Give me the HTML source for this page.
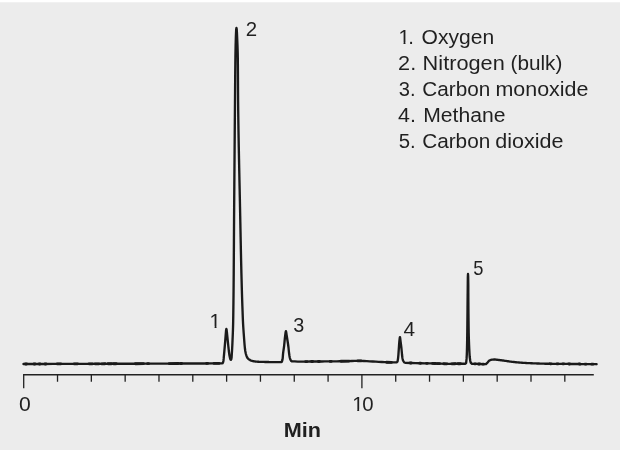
<!DOCTYPE html>
<html>
<head>
<meta charset="utf-8">
<title>Chromatogram</title>
<style>
html,body{margin:0;padding:0;background:#ececec;}
body{width:620px;height:450px;overflow:hidden;position:relative;font-family:"Liberation Sans",sans-serif;}
svg{position:absolute;left:0;top:0;display:block;will-change:transform;filter:grayscale(1);}
text{font-family:"Liberation Sans",sans-serif;fill:#231f20;}
</style>
</head>
<body>
<svg width="620" height="450" viewBox="0 0 620 450">
<defs><clipPath id="c1"><rect x="350.18" y="390.45" width="60" height="18.55"/><rect x="357.25" y="408.99" width="1.90" height="2.30"/><rect x="363.41" y="408.99" width="40" height="6"/></clipPath><clipPath id="c2"><rect x="207.53" y="307.65" width="60" height="18.35"/><rect x="214.60" y="325.99" width="1.90" height="2.50"/><rect x="220.76" y="325.99" width="40" height="6"/></clipPath><clipPath id="c3"><rect x="396.48" y="23.85" width="60" height="18.15"/><rect x="403.55" y="41.99" width="1.90" height="2.70"/><rect x="409.71" y="41.99" width="40" height="6"/></clipPath></defs>
<rect x="0" y="0" width="620" height="450" fill="#ececec"/>
<rect x="0" y="0" width="620" height="2" fill="#ffffff"/>
<rect x="0" y="2" width="620" height="1" fill="#f1f1f1"/>
<path d="M23.05,374.80H593.8" fill="none" stroke="#222222" stroke-width="1.55"/>
<path d="M23.70,374.80V388.3 M57.52,374.80V381.8 M91.34,374.80V381.8 M125.16,374.80V381.8 M158.98,374.80V381.8 M192.80,374.80V381.8 M226.62,374.80V381.8 M260.44,374.80V381.8 M294.26,374.80V381.8 M328.08,374.80V381.8 M361.90,374.80V388.3 M395.72,374.80V381.8 M429.54,374.80V381.8 M463.36,374.80V381.8 M497.18,374.80V381.8 M531.00,374.80V381.8 M564.82,374.80V381.8" fill="none" stroke="#222222" stroke-width="1.3"/>
<path d="M23.50,364.00 L33.50,363.98 L43.50,363.95 L53.50,363.93 L63.50,363.90 L73.50,363.88 L83.50,363.85 L93.50,363.83 L103.50,363.80 L113.50,363.77 L123.50,363.74 L133.50,363.71 L143.50,363.67 L153.50,363.63 L163.50,363.60 L173.50,363.56 L183.50,363.52 L193.50,363.49 L203.50,363.45 L213.50,363.42 L222.00,363.40 L222.60,363.20 L223.25,361.70 L223.51,360.20 L223.67,358.70 L223.79,357.20 L223.93,355.70 L224.07,354.20 L224.21,352.70 L224.35,351.20 L224.48,349.70 L224.61,348.20 L224.74,346.70 L224.87,345.20 L224.99,343.70 L225.12,342.20 L225.24,340.70 L225.36,339.20 L225.48,337.70 L225.60,336.20 L225.72,334.70 L225.85,333.20 L225.97,331.70 L226.10,330.20 L226.35,329.00 L226.60,329.60 L226.80,331.50 L226.97,333.00 L227.13,334.50 L227.29,336.00 L227.45,337.50 L227.60,339.00 L227.75,340.50 L227.89,342.00 L228.04,343.50 L228.19,345.00 L228.35,346.50 L228.52,348.00 L228.68,349.50 L228.85,351.00 L229.04,352.50 L229.25,354.00 L229.48,355.50 L229.79,357.00 L230.13,358.50 L230.20,358.80 L230.60,359.60 L230.90,359.80 L231.20,359.40 L231.60,357.50 L231.79,354.50 L231.98,351.50 L232.15,348.50 L232.31,345.50 L232.44,342.50 L232.57,339.50 L232.70,336.50 L232.82,333.50 L232.93,330.50 L233.02,327.50 L233.11,324.50 L233.17,321.50 L233.22,318.50 L233.27,315.50 L233.31,312.50 L233.35,309.50 L233.39,306.50 L233.43,303.50 L233.46,300.50 L233.50,297.50 L233.53,294.50 L233.56,291.50 L233.59,288.50 L233.62,285.50 L233.64,282.50 L233.67,279.50 L233.69,276.50 L233.72,273.50 L233.74,270.50 L233.76,267.50 L233.78,264.50 L233.80,261.50 L233.82,258.50 L233.84,255.50 L233.86,252.50 L233.88,249.50 L233.90,246.50 L233.92,243.50 L233.93,240.50 L233.95,237.50 L233.97,234.50 L233.99,231.50 L234.01,228.50 L234.03,225.50 L234.05,222.50 L234.06,219.50 L234.08,216.50 L234.11,213.50 L234.13,210.50 L234.15,207.50 L234.17,204.50 L234.20,201.50 L234.22,198.50 L234.24,195.50 L234.27,192.50 L234.29,189.50 L234.32,186.50 L234.34,183.50 L234.36,180.50 L234.39,177.50 L234.41,174.50 L234.43,171.50 L234.46,168.50 L234.48,165.50 L234.50,162.50 L234.53,159.50 L234.55,156.50 L234.57,153.50 L234.60,150.50 L234.62,147.50 L234.64,144.50 L234.67,141.50 L234.69,138.50 L234.72,135.50 L234.74,132.50 L234.76,129.50 L234.79,126.50 L234.81,123.50 L234.84,120.50 L234.86,117.50 L234.89,114.50 L234.91,111.50 L234.94,108.50 L234.96,105.50 L234.99,102.50 L235.01,99.50 L235.04,96.50 L235.06,93.50 L235.09,90.50 L235.11,87.50 L235.13,84.50 L235.16,81.50 L235.18,78.50 L235.21,75.50 L235.23,72.50 L235.26,69.50 L235.30,66.50 L235.33,63.50 L235.37,60.50 L235.41,57.50 L235.45,54.50 L235.51,51.50 L235.57,48.50 L235.63,45.50 L235.71,42.50 L235.79,39.50 L235.88,36.50 L236.00,33.50 L236.15,30.50 L236.20,29.50 L236.45,28.00 L236.70,29.00 L236.95,33.00 L237.08,36.00 L237.21,39.00 L237.34,42.00 L237.46,45.00 L237.56,48.00 L237.65,51.00 L237.73,54.00 L237.79,57.00 L237.82,60.00 L237.85,63.00 L237.88,66.00 L237.90,69.00 L237.92,72.00 L237.94,75.00 L237.96,78.00 L237.97,81.00 L237.99,84.00 L238.00,87.00 L238.02,90.00 L238.04,93.00 L238.06,96.00 L238.08,99.00 L238.11,102.00 L238.14,105.00 L238.17,108.00 L238.21,111.00 L238.25,114.00 L238.29,117.00 L238.33,120.00 L238.37,123.00 L238.42,126.00 L238.46,129.00 L238.51,132.00 L238.56,135.00 L238.62,138.00 L238.67,141.00 L238.72,144.00 L238.78,147.00 L238.84,150.00 L238.90,153.00 L238.96,156.00 L239.02,159.00 L239.08,162.00 L239.14,165.00 L239.20,168.00 L239.26,171.00 L239.33,174.00 L239.39,177.00 L239.45,180.00 L239.52,183.00 L239.58,186.00 L239.65,189.00 L239.71,192.00 L239.77,195.00 L239.84,198.00 L239.90,201.00 L239.96,204.00 L240.02,207.00 L240.08,210.00 L240.14,213.00 L240.20,216.00 L240.26,219.00 L240.32,222.00 L240.38,225.00 L240.44,228.00 L240.50,231.00 L240.56,234.00 L240.62,237.00 L240.68,240.00 L240.74,243.00 L240.80,246.00 L240.86,249.00 L240.92,252.00 L240.99,255.00 L241.05,258.00 L241.12,261.00 L241.19,264.00 L241.26,267.00 L241.33,270.00 L241.40,273.00 L241.48,276.00 L241.56,279.00 L241.64,282.00 L241.72,285.00 L241.80,288.00 L241.89,291.00 L241.98,294.00 L242.07,297.00 L242.17,300.00 L242.27,303.00 L242.37,306.00 L242.48,309.00 L242.59,312.00 L242.70,315.00 L242.82,318.00 L242.94,321.00 L243.09,324.00 L243.27,327.00 L243.47,330.00 L243.68,333.00 L243.90,336.00 L244.13,339.00 L244.35,342.00 L244.59,345.00 L244.88,348.00 L245.27,351.00 L245.88,354.00 L246.60,356.20 L247.20,357.50 L247.70,358.19 L248.20,358.75 L248.70,359.17 L249.20,359.51 L249.70,359.82 L250.20,360.12 L250.70,360.37 L251.20,360.58 L251.70,360.75 L252.20,360.90 L252.70,361.03 L253.20,361.14 L253.70,361.25 L254.20,361.35 L254.70,361.43 L255.20,361.50 L255.70,361.56 L256.20,361.61 L256.70,361.65 L257.20,361.69 L257.70,361.73 L258.20,361.76 L258.70,361.79 L259.20,361.82 L259.70,361.84 L260.20,361.86 L260.70,361.87 L261.20,361.89 L261.70,361.90 L262.20,361.91 L262.70,361.92 L263.20,361.93 L263.70,361.94 L264.20,361.95 L264.70,361.96 L265.20,361.97 L265.70,361.98 L266.20,361.99 L266.70,362.00 L267.20,362.01 L267.70,362.02 L268.20,362.03 L268.70,362.04 L269.20,362.05 L269.70,362.05 L270.20,362.06 L270.70,362.07 L271.20,362.07 L271.70,362.08 L272.20,362.09 L272.70,362.09 L273.20,362.09 L273.70,362.10 L274.20,362.10 L274.70,362.10 L275.20,362.10 L275.70,362.10 L276.20,362.10 L276.70,362.10 L277.20,362.10 L277.70,362.10 L278.20,362.10 L278.70,362.10 L279.20,362.10 L279.70,362.10 L280.20,362.10 L280.70,362.10 L281.00,362.10 L281.90,361.60 L282.37,360.10 L282.65,358.60 L282.80,357.10 L282.91,355.60 L283.02,354.10 L283.18,352.60 L283.38,351.10 L283.60,349.60 L283.82,348.10 L284.03,346.60 L284.20,345.10 L284.35,343.60 L284.50,342.10 L284.63,340.60 L284.78,339.10 L284.93,337.60 L285.11,336.10 L285.30,334.60 L285.50,333.10 L285.60,332.40 L285.90,331.20 L286.20,332.20 L286.60,335.00 L286.84,336.50 L287.09,338.00 L287.32,339.50 L287.56,341.00 L287.79,342.50 L288.02,344.00 L288.23,345.50 L288.42,347.00 L288.58,348.50 L288.73,350.00 L288.88,351.50 L289.06,353.00 L289.26,354.50 L289.48,356.00 L289.76,357.50 L290.16,359.00 L290.89,360.50 L291.00,360.70 L291.80,361.30 L294.80,361.45 L297.80,361.57 L300.80,361.60 L303.80,361.59 L306.80,361.57 L309.80,361.54 L312.80,361.52 L315.80,361.49 L318.80,361.48 L321.80,361.46 L324.80,361.44 L327.80,361.42 L330.80,361.39 L333.80,361.35 L336.80,361.30 L339.80,361.25 L342.80,361.19 L345.80,361.14 L348.80,361.07 L351.80,361.01 L354.80,360.95 L357.80,360.91 L360.80,360.90 L363.80,360.98 L366.80,361.12 L369.80,361.30 L372.80,361.49 L375.80,361.64 L378.80,361.80 L381.80,361.98 L384.80,362.15 L387.80,362.29 L390.80,362.38 L393.80,362.40 L396.60,362.40 L397.50,361.60 L397.78,360.10 L398.02,358.60 L398.19,357.10 L398.33,355.60 L398.45,354.10 L398.55,352.60 L398.65,351.10 L398.76,349.60 L398.87,348.10 L398.97,346.60 L399.07,345.10 L399.18,343.60 L399.30,342.10 L399.44,340.60 L399.61,339.10 L399.75,338.00 L399.95,337.10 L400.15,338.00 L400.50,341.00 L400.70,342.50 L400.90,344.00 L401.09,345.50 L401.27,347.00 L401.44,348.50 L401.60,350.00 L401.74,351.50 L401.87,353.00 L402.00,354.50 L402.17,356.00 L402.37,357.50 L402.63,359.00 L403.02,360.50 L403.92,362.00 L404.40,362.50 L405.50,362.85 L410.50,362.98 L415.50,363.10 L420.50,363.21 L425.50,363.31 L430.50,363.40 L435.50,363.51 L440.50,363.70 L445.50,363.80 L450.50,363.80 L455.50,363.79 L460.50,363.78 L465.40,363.75 L466.15,362.90 L466.56,358.90 L466.79,354.90 L466.93,350.90 L467.03,346.90 L467.11,342.90 L467.18,338.90 L467.24,334.90 L467.29,330.90 L467.34,326.90 L467.38,322.90 L467.42,318.90 L467.46,314.90 L467.50,310.90 L467.53,306.90 L467.57,302.90 L467.61,298.90 L467.65,294.90 L467.70,290.90 L467.74,286.90 L467.78,282.90 L467.83,278.90 L467.85,277.00 L468.00,274.00 L468.15,276.00 L468.30,285.00 L468.30,289.00 L468.31,293.00 L468.33,297.00 L468.35,301.00 L468.38,305.00 L468.41,309.00 L468.45,313.00 L468.49,317.00 L468.53,321.00 L468.58,325.00 L468.64,329.00 L468.70,333.00 L468.80,337.00 L468.93,341.00 L469.08,345.00 L469.26,349.00 L469.45,353.00 L469.70,357.00 L470.28,361.00 L470.70,362.60 L472.00,363.90 L473.00,363.90 L474.00,363.91 L475.00,363.92 L476.00,363.93 L477.00,363.95 L478.00,363.96 L479.00,363.98 L480.00,364.00 L481.00,364.03 L482.00,364.07 L483.00,364.12 L484.00,364.15 L485.00,364.13 L486.00,364.00 L487.00,363.17 L488.00,362.02 L489.00,360.83 L490.00,360.23 L491.00,359.86 L492.00,359.67 L493.00,359.55 L494.00,359.50 L495.00,359.53 L496.00,359.62 L497.00,359.73 L498.00,359.85 L499.00,359.97 L500.00,360.09 L501.00,360.23 L502.00,360.37 L503.00,360.52 L504.00,360.67 L505.00,360.81 L506.00,360.96 L507.00,361.10 L508.00,361.25 L509.00,361.40 L510.00,361.54 L511.00,361.68 L512.00,361.80 L513.00,361.92 L514.00,362.03 L515.00,362.14 L516.00,362.24 L517.00,362.34 L518.00,362.43 L519.00,362.52 L520.00,362.60 L521.00,362.67 L522.00,362.75 L523.00,362.81 L524.00,362.88 L525.00,362.94 L526.00,363.00 L527.00,363.06 L528.00,363.11 L529.00,363.16 L530.00,363.20 L531.00,363.24 L532.00,363.28 L533.00,363.32 L534.00,363.36 L535.00,363.40 L536.00,363.44 L537.00,363.47 L538.00,363.51 L539.00,363.54 L540.00,363.57 L541.00,363.60 L542.00,363.63 L543.00,363.66 L544.00,363.68 L545.00,363.71 L546.00,363.73 L547.00,363.75 L548.00,363.77 L549.00,363.79 L550.00,363.80 L551.00,363.81 L552.00,363.82 L553.00,363.84 L554.00,363.85 L555.00,363.86 L556.00,363.86 L557.00,363.87 L558.00,363.88 L559.00,363.89 L560.00,363.90 L561.00,363.90 L562.00,363.91 L563.00,363.92 L564.00,363.92 L565.00,363.93 L566.00,363.94 L567.00,363.94 L568.00,363.95 L569.00,363.96 L570.00,363.96 L571.00,363.97 L572.00,363.98 L573.00,363.98 L574.00,363.99 L575.00,364.00 L576.00,364.01 L577.00,364.02 L578.00,364.03 L579.00,364.03 L580.00,364.04 L581.00,364.05 L582.00,364.06 L583.00,364.07 L584.00,364.08 L585.00,364.09 L586.00,364.10 L587.00,364.11 L588.00,364.12 L589.00,364.13 L590.00,364.14 L591.00,364.15 L592.00,364.16 L593.00,364.16 L594.00,364.17 L595.00,364.18 L596.00,364.19 L596.60,364.20" fill="none" stroke="#1c1a1b" stroke-width="2.35" stroke-linejoin="round" stroke-linecap="round"/>
<path d="M25.4,364.00L26.6,363.99 M34.0,363.98L35.0,363.97 M39.2,363.96L40.0,363.96 M45.0,363.95L46.0,363.95 M57.2,363.92L60.8,363.91 M74.2,363.88L77.6,363.87 M89.0,363.84L92.5,363.83 M95.0,363.82L99.0,363.81 M101.5,363.80L105.0,363.79 M108.0,363.79L111.5,363.78 M113.5,363.77L116.2,363.76 M135.4,363.70L143.4,363.67 M147.6,363.66L148.6,363.65 M169.2,363.58L178.2,363.54 M180.6,363.53L181.6,363.53 M206.6,363.45L207.6,363.44 M214.0,363.42L219.0,363.41 M305.6,361.58L307.0,361.57 M311.6,361.53L312.6,361.52 M318.4,361.48L319.4,361.47 M330.2,361.40L331.2,361.39 M341.0,361.22L349.0,361.07 M357.8,360.91L361.0,360.91 M386.6,362.23L391.4,362.38 M410.2,362.97L411.2,362.99 M419.6,363.19L420.6,363.21 M426.4,363.33L427.4,363.34 M432.6,363.45L435.2,363.51 M437.4,363.58L439.6,363.67 M443.8,363.77L447.0,363.80 M451.6,363.80L455.2,363.79 M458.0,363.79L460.4,363.78 M474.6,363.91L475.6,363.93 M478.6,363.97L479.6,363.99 M482.6,364.10L483.6,364.13 M550.2,363.80L551.2,363.81 M557.0,363.87L558.0,363.88 M562.8,363.92L563.8,363.92 M568.6,363.95L569.6,363.96 M579.2,364.04L580.4,364.05 M585.0,364.09L586.2,364.10 M591.6,364.15L593.0,364.16" fill="none" stroke="#1c1a1b" stroke-width="2.85" stroke-linecap="round"/>
<text transform="translate(19.05,410.80) scale(1.0471,1.0000)" font-size="20.2">0</text>
<g clip-path="url(#c1)"><text x="352.18 362.23" y="410.80" font-size="20.35">10</text></g>
<g clip-path="url(#c2)"><text x="209.53" y="328.00" font-size="20.35">1</text></g>
<text transform="translate(245.68,36.00) scale(1.0220,1.0000)" font-size="20.0">2</text>
<text transform="translate(293.16,331.90) scale(0.9895,1.0000)" font-size="20.0">3</text>
<text transform="translate(403.53,336.00) scale(1.0396,1.0000)" font-size="20.0">4</text>
<text transform="translate(473.27,274.70) scale(0.9158,1.0000)" font-size="20.0">5</text>
<text transform="translate(283.74,436.50) scale(1.0672,1.0000)" font-size="20.3" font-weight="bold">Min</text>
<g clip-path="url(#c3)"><text x="398.48 408.25" y="44.20" font-size="20.35">1.</text></g>
<text transform="translate(421.60,44.20) scale(1.0601,1.0000)" font-size="19.9">Oxygen</text>
<text transform="translate(398.12,70.00) scale(1.0885,1.0000)" font-size="19.9">2.</text>
<text transform="translate(422.61,70.00) scale(1.0929,1.0000)" font-size="19.9">Nitrogen</text>
<text transform="translate(510.51,70.00) scale(1.0410,1.0000)" font-size="19.9">(bulk)</text>
<text transform="translate(398.74,95.95) scale(1.0122,1.0000)" font-size="19.9">3.</text>
<text transform="translate(422.36,95.95) scale(1.0408,1.0000)" font-size="19.9">Carbon</text>
<text transform="translate(495.45,95.95) scale(1.0788,1.0000)" font-size="19.9">monoxide</text>
<text transform="translate(398.02,121.90) scale(1.0748,1.0000)" font-size="19.9">4.</text>
<text transform="translate(423.16,121.90) scale(1.0624,1.0000)" font-size="19.9">Methane</text>
<text transform="translate(398.79,147.75) scale(1.0229,1.0000)" font-size="19.9">5.</text>
<text transform="translate(422.16,147.75) scale(1.0440,1.0000)" font-size="19.9">Carbon</text>
<text transform="translate(495.18,147.75) scale(1.0825,1.0000)" font-size="19.9">dioxide</text>
</svg>
</body>
</html>
